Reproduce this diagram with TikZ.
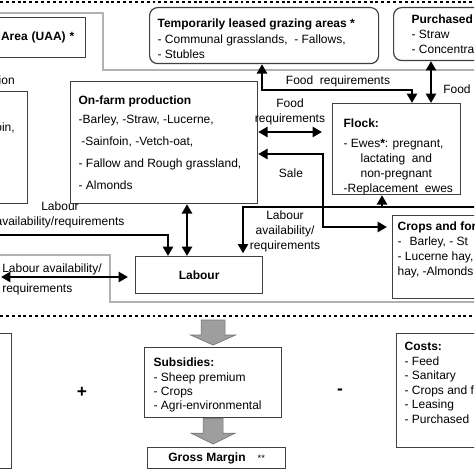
\documentclass[tikz,border=0pt]{standalone}
\usepackage{fontspec}
\setmainfont{Liberation Sans}
\usetikzlibrary{positioning,calc,arrows.meta}
\newcommand{\farmFont}{\fontsize{9}{11.25}\selectfont}
\newcommand{\farmText}[3]{\parbox[t][#1][t]{#2}{\raggedright #3}}
\tikzset{
   farmBox/.style = {
         rectangle,
         draw = black!75,
         anchor = north west,
         inner ysep = 2 pt,
         font = \farmFont,
         line width = 0.9pt,
      },
   farmRound/.style = {
         farmBox,
         rounded corners = 6pt,
      },
   farmLabel/.style = {
         align = center,
         inner sep = 0 pt,
         font = \farmFont,
      },
   farmLine/.style = {
         draw,
         line width = 2.2pt,
         -{Triangle[length=7pt,width=7.5pt]},
      },
   farmBoth/.style = {
         farmLine,
         {Triangle[length=7pt,width=7.5pt]}-{Triangle[length=7pt,width=7.5pt]},
      },
   farmLimit/.style = {
         draw,
         black!30,
         line width = 2.2pt,
      },
   farmDots/.style = {
         draw,
         line width = 2.2pt,
         dash pattern = on 2.2pt off 2.2pt,
      },
   farmBlock/.style = {
         fill = black!38,
         draw = black!55,
         line width = 0.5pt,
      },
}

\begin{document}
\begin{tikzpicture}[x=0.75pt, y=-0.75pt]
\useasboundingbox (0,0) rectangle (474,474);
\clip (0,0) rectangle (474,474);

% Frame lines
\path [farmDots] (0,2) -- (474,2);
\path [farmDots] (0,316) -- (474,316);
\path [farmLimit] (-10,13) -- (103,13) -- (103,70) -- (490,70);
\path [farmLimit] (-10,255) -- (110,255) -- (110,302) -- (490,302);

% Place nodes
\node [farmBox, anchor=north east, minimum height=30pt, text width=96pt,
	align=right, inner xsep=8.25pt] (uaa) at (86,17) {\textbf{Area (UAA) *}};
\node [farmRound, inner xsep=6pt, inner ysep=8.6pt, font=\fontsize{9}{11.6}\selectfont]
	(grazing) at (149,7)
	{\farmText{24.8pt}{159.75pt}{\textbf{Temporarily leased grazing areas *}\\- Communal grasslands, \ - Fallows,\\- Stubles}};
\node [farmRound, inner xsep=13.5pt, inner ysep=5.6pt]
	(purchased) at (393,7) {\farmText{28.5pt}{78pt}{\textbf{Purchased}\\- Straw\\- Concentra}};

\node [farmLabel, anchor=east] (cropTitle) at (15,80) {ion};
\node [farmBox, anchor=north east, minimum width=60pt, minimum height=84pt]
	(cropBox) at (28,91) {};
\node [farmLabel, anchor=east] (cropText) at (15,128) {oin,};

\node [farmBox, inner xsep=6pt, inner ysep=10.9pt, font=\fontsize{9}{16.5}\selectfont]
	(onfarm) at (70,81)
	{\farmText{69.7pt}{128.25pt}{\textbf{On-farm production}\\[-2.25pt]-Barley, -Straw, -Lucerne,\\\hspace*{2pt}-Sainfoin, -Vetch-oat,\\- Fallow and Rough grassland,\\- Almonds}};

\node [farmBox, inner xsep=8.25pt, inner ysep=11.6pt] (flock) at (332,103)
	{\farmText{45.05pt}{79.5pt}{\textbf{Flock:}\\[3.75pt]- Ewes\textbf{*}: pregnant,\\\hspace*{12.75pt}lactating \ and\\\hspace*{12.75pt}non-pregnant\\\mbox{-Replacement \ ewes}}};

\node [farmBox, inner xsep=3.75pt, inner ysep=4.9pt] (crops) at (392,215)
	{\farmText{52.45pt}{97.5pt}{\textbf{Crops and for}\\-\hspace*{6pt}Barley, - St\\- Lucerne hay,\\hay, -Almonds}};

\node [farmBox, minimum width=95.25pt, minimum height=27.75pt, align=center]
	(labour) at (135,256) {\textbf{Labour}};

\node [farmBox, anchor=north east, minimum width=60pt, minimum height=101.25pt]
	(income) at (12,333) {};
\node [farmBox, inner xsep=6.75pt, inner ysep=7.9pt, font=\fontsize{9}{10.75}\selectfont]
	(subsidies) at (144,347)
	{\farmText{36.7pt}{89.25pt}{\textbf{Subsidies:}\\- Sheep premium\\- Crops\\- Agri-environmental}};
\node [farmBox, minimum width=103.5pt, minimum height=15.75pt, align=center]
	(margin) at (147,447) {\textbf{Gross Margin}\quad{\scriptsize **}};
\node [farmBox, inner xsep=6pt, inner ysep=6.4pt, font=\fontsize{9}{10.9}\selectfont]
	(costs) at (396,333)
	{\farmText{72.7pt}{93pt}{\textbf{Costs:}\\- Feed\\- Sanitary\\- Crops and f\\- Leasing\\- Purchased}};

\node [farmLabel, font=\fontsize{13}{13}\selectfont\bfseries] (plus) at (82,392) {+};
\node [farmLabel, font=\fontsize{13}{13}\selectfont\bfseries] (minus) at (340,392) {-};

% Place joins
\coordinate (grazFood) at (262,90);
\coordinate (flockFood) at (412,90);
\coordinate (purchFood) at (431,80);
\coordinate (farmFood) at (290,132);
\coordinate (saleUp) at (323,154);
\coordinate (saleDown) at (323,227);
\coordinate (labRight) at (490,207);
\coordinate (labMid) at (243,207);
\coordinate (labFlock) at (382,207);
\coordinate (farmLab) at (187,230);
\coordinate (labLeft) at (-10,235);
\coordinate (labTurn) at (168,235);
\coordinate (labOut) at (1,277);

% Draw edges
\path [farmBoth] (grazing.south -| grazFood) -- (grazFood) -| (flock.north -| flockFood);
\path [farmBoth] (purchased.south -| purchFood) -- (flock.north -| purchFood);
\path [farmBoth, shorten >=7.5pt] (onfarm.east |- farmFood) -- (flock.west |- farmFood);
\path [farmBoth, shorten >=3.75pt] (onfarm.east |- saleUp) -- (saleUp) -- (saleDown)
	-- (crops.west |- saleDown);
\path [farmLine, shorten >=2pt] (labRight) -- (labMid) -- (labour.north -| labMid);
\path [farmLine] (labFlock) -- (flock.south -| labFlock);
\path [farmBoth] (onfarm.south -| farmLab) -- (labour.north -| farmLab);
\path [farmLine] (labLeft) -- (labTurn) -- (labour.north -| labTurn);
\path [farmBoth, shorten >=5.25pt] (labOut) -- (labour.west |- labOut);

% Block arrows
\path [farmBlock] ($(subsidies.north)+(-12,-27)$) -- ($(subsidies.north)+(12,-27)$)
	-- ($(subsidies.north)+(12,-12)$) -- ($(subsidies.north)+(22.5,-12)$)
	-- ($(subsidies.north)+(0,-2)$) -- ($(subsidies.north)+(-22.5,-12)$)
	-- ($(subsidies.north)+(-12,-12)$) -- cycle;
\path [farmBlock] ($(subsidies.south)+(-10,0)$) -- ($(subsidies.south)+(10,0)$)
	-- ($(subsidies.south)+(10,15)$) -- ($(subsidies.south)+(22,15)$)
	-- ($(margin.north -| subsidies.south)+(0,-3)$) -- ($(subsidies.south)+(-22,15)$)
	-- ($(subsidies.south)+(-10,15)$) -- cycle;

% Edge labels
\node [farmLabel] (foodTop) at (338,81) {Food \ requirements};
\node [farmLabel, anchor=west] (foodPurch) at (443,89) {Food};
\node [farmLabel] (foodFarm) at (290,112) {Food\\requirements};
\node [farmLabel] (saleText) at (291,173) {Sale};
\node [farmLabel] (labFlockText) at (285,231) {Labour\\availability/\\requirements};
\node [farmLabel] (labLeftText) at (60,214.5) {Labour\\availability/requirements};
\node [farmLabel, anchor=west] (labOutTop) at (2,269) {Labour availability/};
\node [farmLabel, anchor=west] (labOutBot) at (2,289) {requirements};

\end{tikzpicture}
\end{document}
